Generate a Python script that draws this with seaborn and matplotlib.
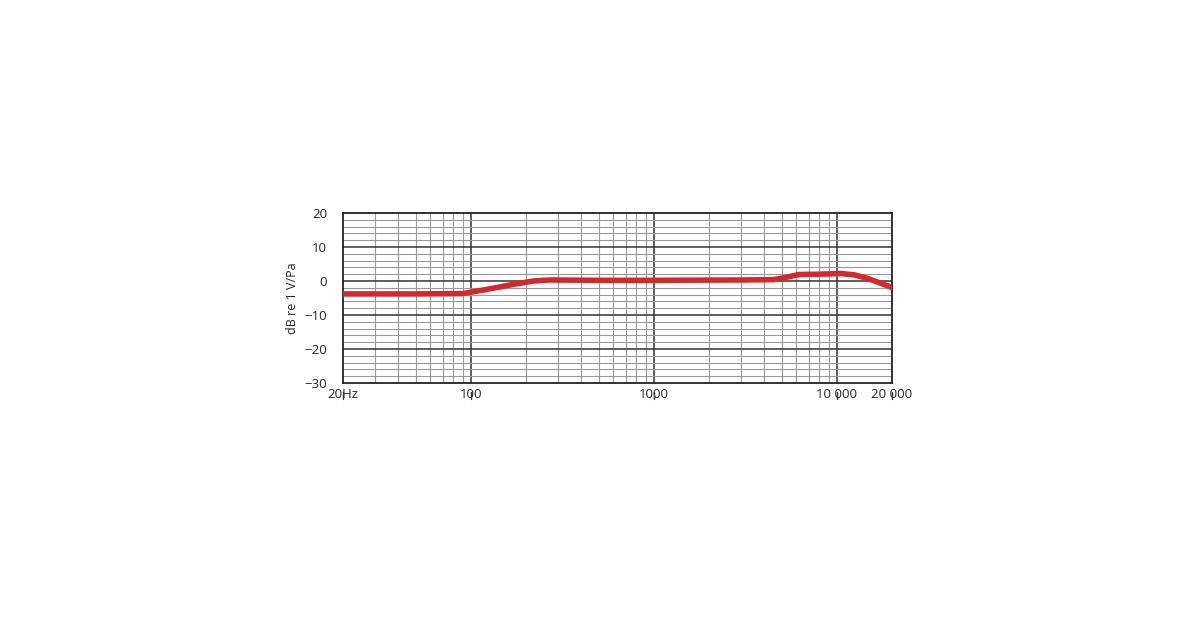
import numpy as np
import matplotlib.pyplot as plt
import seaborn as sns

# frequency response
freq_hz = [20, 50, 90, 100, 130, 170, 220, 270, 500, 1000, 3000, 4500, 5200, 6200, 8000, 10500, 12500, 15000, 20000]
level_db = [-3.8, -3.8, -3.7, -3.3, -2.2, -1.0, 0.0, 0.3, 0.2, 0.2, 0.3, 0.4, 1.0, 1.9, 2.0, 2.2, 1.8, 0.6, -1.9]

tick_vals = [20, 100, 1000, 10000, 20000]
tick_labels = ["20Hz", "100", "1000", "10 000", "20 000"]
y_ticks = [20, 10, 0, -10, -20, -30]

sns.set_style("white")
plt.rcParams['font.family'] = ['Open Sans', 'DejaVu Sans']

fig = plt.figure(figsize=(12, 6.3), dpi=100)
ax = fig.add_axes([343 / 1200, 1 - 383 / 630, 549 / 1200, 170 / 630])

# grid
minor_x = [f * d for d in (10, 100, 1000, 10000) for f in range(2, 10) if 20 < f * d < 20000]
for x in minor_x:
    ax.axvline(x, color="#999999", lw=0.8, zorder=1)
for x in (100, 1000, 10000):
    ax.axvline(x, color="#333333", lw=1.1, zorder=1)
for y in range(-28, 20, 2):
    if y % 10:
        ax.axhline(y, color="#999999", lw=0.8, zorder=1)
for y in (10, 0, -10, -20):
    ax.axhline(y, color="#333333", lw=1.1, zorder=1)

sns.lineplot(x=freq_hz, y=level_db, ax=ax, color="#d4282f", lw=4, zorder=3)

ax.set_xscale("log")
ax.set_xlim(20, 20000)
ax.set_ylim(-30, 20)
ax.set_xticks(tick_vals)
ax.set_xticklabels(tick_labels)
ax.minorticks_off()
ax.set_yticks(y_ticks)
ax.tick_params(axis="x", direction="out", length=6, pad=-16, width=1, color="#333333", labelsize=9.5)
ax.tick_params(axis="y", direction="out", length=8, width=1, color="#333333", labelsize=9.5)
for t in ax.get_xticklines():
    t.set_visible(False)
for x in tick_vals:
    ax.plot([x, x], [-32.5, -34.8], color="#333333", lw=1, clip_on=False)
for lbl in ax.get_xticklabels():
    lbl.set_y(-0.11)
ax.set_ylabel("dB re 1 V/Pa", fontsize=9, labelpad=4)
for s in ax.spines.values():
    s.set_color("#222222")
    s.set_linewidth(1.3)

fig.savefig("out.png", dpi=100)
